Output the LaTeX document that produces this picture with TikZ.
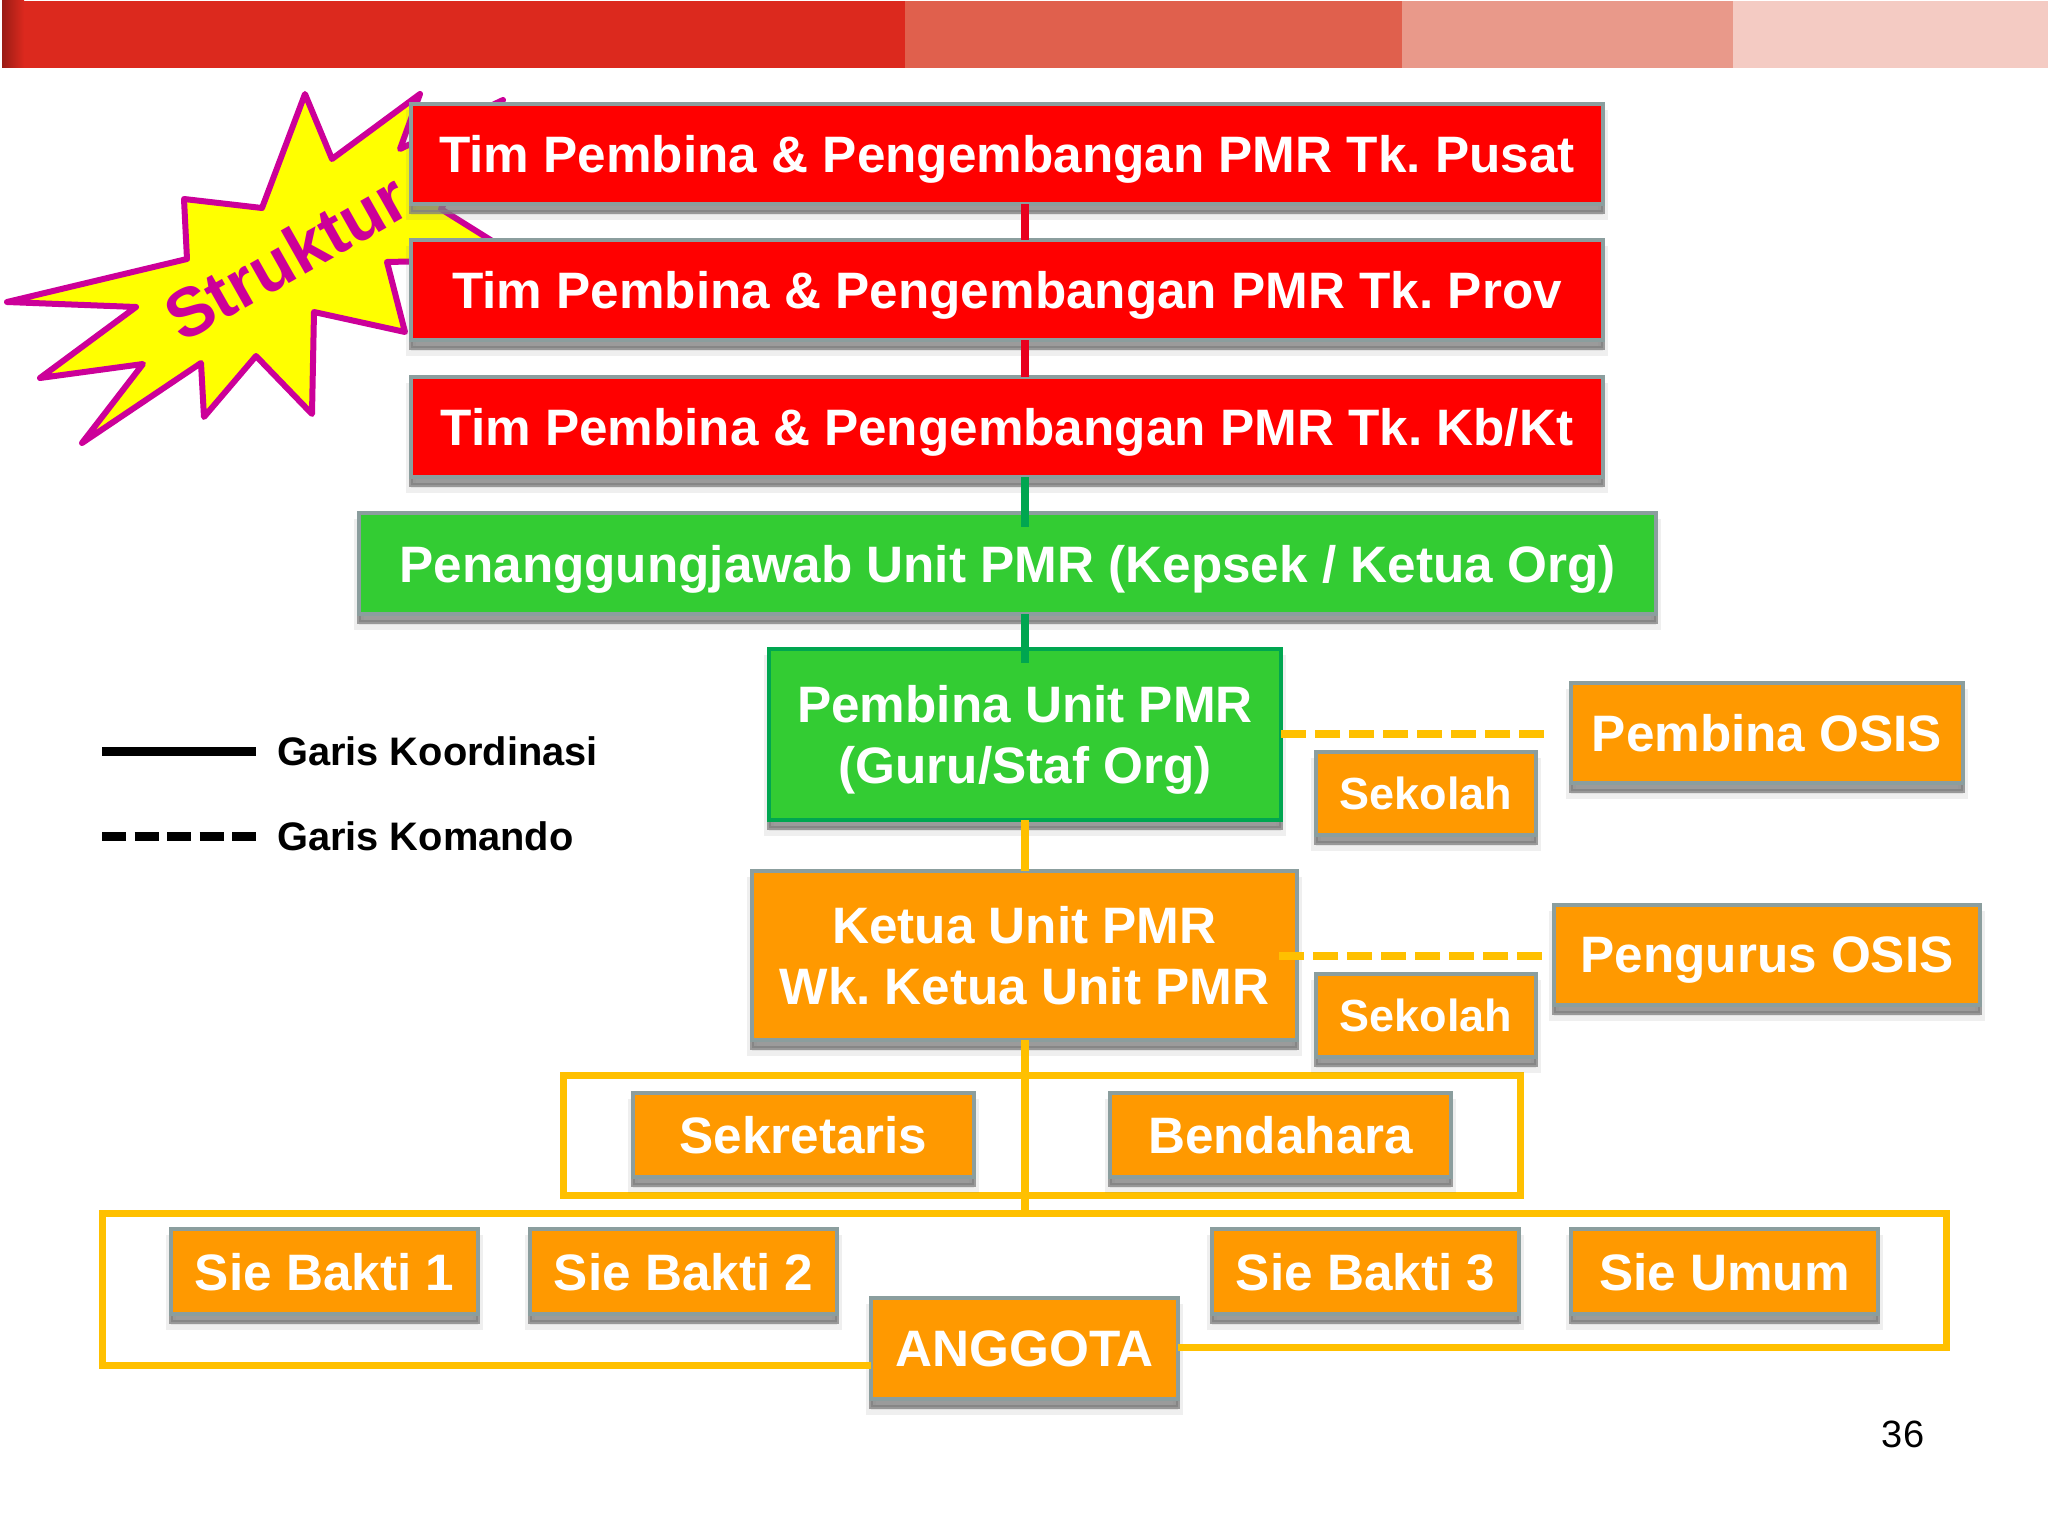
\documentclass[tikz,border=0pt]{standalone}
\usepackage{fontspec}
\setmainfont{Liberation Sans}
\frenchspacing
\usetikzlibrary{calc}
\definecolor{barA}{HTML}{DC291E}
\definecolor{barB}{HTML}{E0604D}
\definecolor{barC}{HTML}{E9998A}
\definecolor{barD}{HTML}{F4CBC3}
\definecolor{edgeG}{HTML}{8B9E9E}
\definecolor{shadowG}{HTML}{808080}
\definecolor{fRed}{HTML}{FF0000}
\definecolor{fGreen}{HTML}{33CC33}
\definecolor{fOrange}{HTML}{FF9900}
\definecolor{fYellow}{HTML}{FFFF00}
\definecolor{lYellow}{HTML}{FFC000}
\definecolor{lTeal}{HTML}{00A650}
\definecolor{lMag}{HTML}{CC0099}
\definecolor{lRed}{HTML}{E8001E}
\tikzset{
  boxbase/.style={rectangle,inner sep=0pt,outer sep=0pt,draw=edgeG,line width=4pt,text=white,align=center,text depth=0pt,
    font=\fontsize{#1}{61}\selectfont\bfseries,
    preaction={fill=shadowG,draw=shadowG,line width=10pt,opacity=.12,transform canvas={yshift=-11pt}},
    preaction={fill=shadowG,draw=shadowG,opacity=.75,transform canvas={yshift=-8pt}}},
  redbox/.style={boxbase=51.25,fill=fRed},
  greenbox/.style={boxbase=51.25,fill=fGreen},
  pembbox/.style={boxbase=51.25,fill=fGreen,draw=lTeal},
  orangebox/.style={boxbase=51.25,fill=fOrange},
  smallbox/.style={boxbase=45,fill=fOrange},
  frameline/.style={draw=lYellow,line width=7pt,line cap=square,line join=miter},
  yellowconn/.style={draw=lYellow,line width=8pt},
  yellowdash/.style={draw=lYellow,line width=8pt,dash pattern=on 25pt off 9pt},
  tealconn/.style={draw=lTeal,line width=8pt},
  redconn/.style={draw=lRed,line width=8pt},
  legendtext/.style={anchor=west,font=\fontsize{39.8}{46}\selectfont\bfseries,inner sep=0pt},
  legendline/.style={line width=9pt,black},
}
\newcommand{\bx}[7]{% style,name,x1,y1,x2,y2,text
  \pgfmathsetmacro{\cxx}{(#3+#5)/2}\pgfmathsetmacro{\cyy}{(#4+#6)/2}
  \pgfmathsetmacro{\wdd}{#5-#3}\pgfmathsetmacro{\htt}{#6-#4}
  \node[#1,minimum width=\wdd pt,minimum height=\htt pt] (#2) at (\cxx,\cyy) {#7};}
\begin{document}
\begin{tikzpicture}[x=1pt,y=-1pt]
\useasboundingbox (0,0) rectangle (2048,1536);
\fill[white] (0,0) rectangle (2048,1536);
% top bar
\fill[barA] (2,1) rectangle (905,68);
\shade[left color=barA!70!black,right color=barA] (2,1) rectangle (24,68);
\fill[barB] (905,1) rectangle (1402,68);
\fill[barC] (1402,1) rectangle (1733,68);
\fill[barD] (1733,1) rectangle (2048,68);
% star
\draw[fill=fYellow,draw=lMag,line width=6pt,line join=round]
 (305,94)--(332,159)--(420,94)--(400,149)--(503,100)--(441,209)--(521,259)--(387,262)--(405,332)--(314,312)--(312,414)--(256,356)--(204,417)--(201,363)--(82,443)--(143,364)--(40,378)--(136,307)--(7,302)--(187,259)--(184,199)--(262,208)--cycle;
\node[rotate=29.5,text=lMag,font=\fontsize{68.5}{70}\selectfont\bfseries,inner sep=0pt] (stru) at (286,257) {Struktur};
% frames
\coordinate (fa) at (563,1075); \coordinate (fb) at (1520,1075);
\coordinate (fc) at (1520,1195); \coordinate (fd) at (563,1195);
\draw[frameline] (fa)--(fb)--(fc)--(fd)--cycle;
% boxes
\bx{redbox}{t1}{411}{104}{1603}{204}{Tim Pembina \& Pengembangan PMR Tk. Pusat}
\bx{redbox}{t2}{411}{240}{1603}{340}{Tim Pembina \& Pengembangan PMR Tk. Prov}
\bx{redbox}{t3}{411}{377}{1603}{477}{Tim Pembina \& Pengembangan PMR Tk. Kb/Kt}
\bx{greenbox}{pj}{359}{513}{1656}{614}{Penanggungjawab Unit PMR (Kepsek / Ketua Org)}
\bx{pembbox}{pu}{769}{649}{1281}{820}{Pembina Unit PMR\\(Guru/Staf Org)}
\bx{orangebox}{ku}{752}{871}{1297}{1040}{Ketua Unit PMR\\Wk. Ketua Unit PMR}
\bx{smallbox}{s1}{1316}{752}{1536}{835}{Sekolah}
\bx{smallbox}{s2}{1316}{974}{1536}{1057}{Sekolah}
\bx{orangebox}{po}{1571}{683}{1963}{783}{Pembina OSIS}
\bx{orangebox}{pg}{1554}{905}{1980}{1005}{Pengurus OSIS}
\bx{orangebox}{se}{633}{1093}{974}{1177}{Sekretaris}
\bx{orangebox}{be}{1110}{1093}{1451}{1177}{Bendahara}
% lower frame
\bx{orangebox}{an}{871}{1298}{1178}{1399}{ANGGOTA}
\coordinate (ga) at (102,1365); \coordinate (gb) at (102,1213);
\coordinate (gc) at (1946,1213); \coordinate (gd) at (1946,1347);
\draw[frameline,line cap=butt] (an.west |- ga)--(ga)--(gb)--(gc)--(gd)--(an.east |- gd);
\bx{orangebox}{b1}{171}{1229}{478}{1314}{Sie Bakti 1}
\bx{orangebox}{b2}{530}{1229}{837}{1314}{Sie Bakti 2}
\bx{orangebox}{b3}{1212}{1229}{1519}{1314}{Sie Bakti 3}
\bx{orangebox}{b4}{1571}{1229}{1878}{1314}{Sie Umum}
% connectors (all on the axis of the Ketua box)
\draw[redconn] (ku.north |- t1.south)--(ku.north |- t2.north);
\draw[redconn] (ku.north |- t2.south)--(ku.north |- t3.north);
\draw[tealconn] (ku.north |- t3.south)--([yshift=-14pt]ku.north |- pj.north);
\draw[tealconn] (ku.north |- pj.south)--([yshift=-14pt]ku.north |- pu.north);
\draw[yellowconn] (ku.north |- pu.south)--(ku.north);
\draw[yellowconn] (ku.south)--(ku.south |- gb);
\coordinate (da) at (1546,734); \coordinate (db) at (1546,956);
\draw[yellowdash] (pu.east |- da)--(da);
\draw[yellowdash] ([xshift=-18pt]ku.east |- db)--(db);
% legend
\node[legendtext] (lk) at (277,751) {Garis Koordinasi};
\node[legendtext] (lm) at (277,836) {Garis Komando};
\coordinate (la) at (102,751); \coordinate (lb) at (102,836);
\coordinate (lc) at (256,751); \coordinate (ld) at (256,836);
\draw[legendline] (la)--(lc);
\draw[legendline,dash pattern=on 24pt off 8.5pt] (lb)--(ld);
\node[font=\fontsize{38}{42}\selectfont,inner sep=0pt] (pn) at (1903,1434) {36};
\end{tikzpicture}
\end{document}
